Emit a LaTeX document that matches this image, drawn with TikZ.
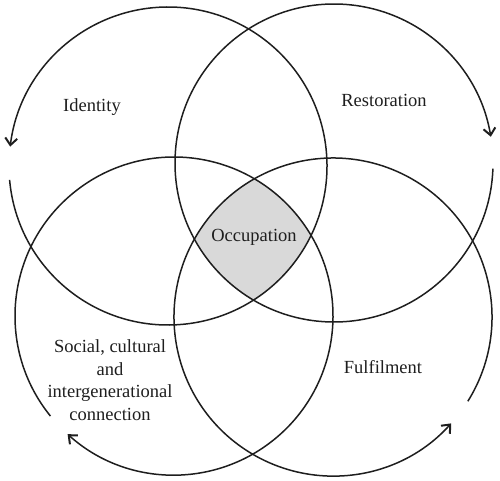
\documentclass[tikz,border=0pt]{standalone}
\usepackage{fontspec}
\setmainfont{Liberation Serif}
\usetikzlibrary{arrows.meta}
\definecolor{ink}{HTML}{1E1E1E}
\definecolor{occfill}{HTML}{D9D9D9}
\tikzset{
  ring/.style={draw=ink, line width=1.5pt, -{Straight Barb[length=7pt,width=12pt,line width=2pt]}},
  lbl/.style={font=\fontsize{18.5}{22.5}\selectfont, text=ink, align=center, inner sep=0pt}
}
\begin{document}
\begin{tikzpicture}[x=1pt,y=1pt]
\useasboundingbox (0,0) rectangle (500,480);
\coordinate (c1) at (168,314);
\coordinate (c2) at (334,317);
\coordinate (c3) at (174,164);
\coordinate (c4) at (333,163);
\def\R{159}
% shaded intersection
\begin{scope}
  \clip (c1) circle[radius=\R];
  \clip (c2) circle[radius=\R];
  \clip (c3) circle[radius=\R];
  \fill[occfill] (c4) circle[radius=\R];
\end{scope}
% circles with gaps and arrows
\draw[ring] ([shift={(185:\R)}]c1) arc[start angle=185, end angle=533, radius=\R];
\draw[ring] ([shift={(-2:\R)}]c2) arc[start angle=-2, end angle=-350.5, radius=\R];
\draw[ring] ([shift={(219:\R)}]c3) arc[start angle=219, end angle=-132, radius=\R];
\draw[ring] ([shift={(-32:\R)}]c4) arc[start angle=-32, end angle=318, radius=\R];
% labels
\node[lbl] (identity) at (92,373) {Identity};
\node[lbl] (restoration) at (384,380) {Restoration};
\node[lbl] (occupation) at (254,243) {Occupation};
\node[lbl] (social) at (110,100) {Social, cultural\\and\\intergenerational\\connection};
\node[lbl] (fulfilment) at (383,113) {Fulfilment};
\end{tikzpicture}
\end{document}
